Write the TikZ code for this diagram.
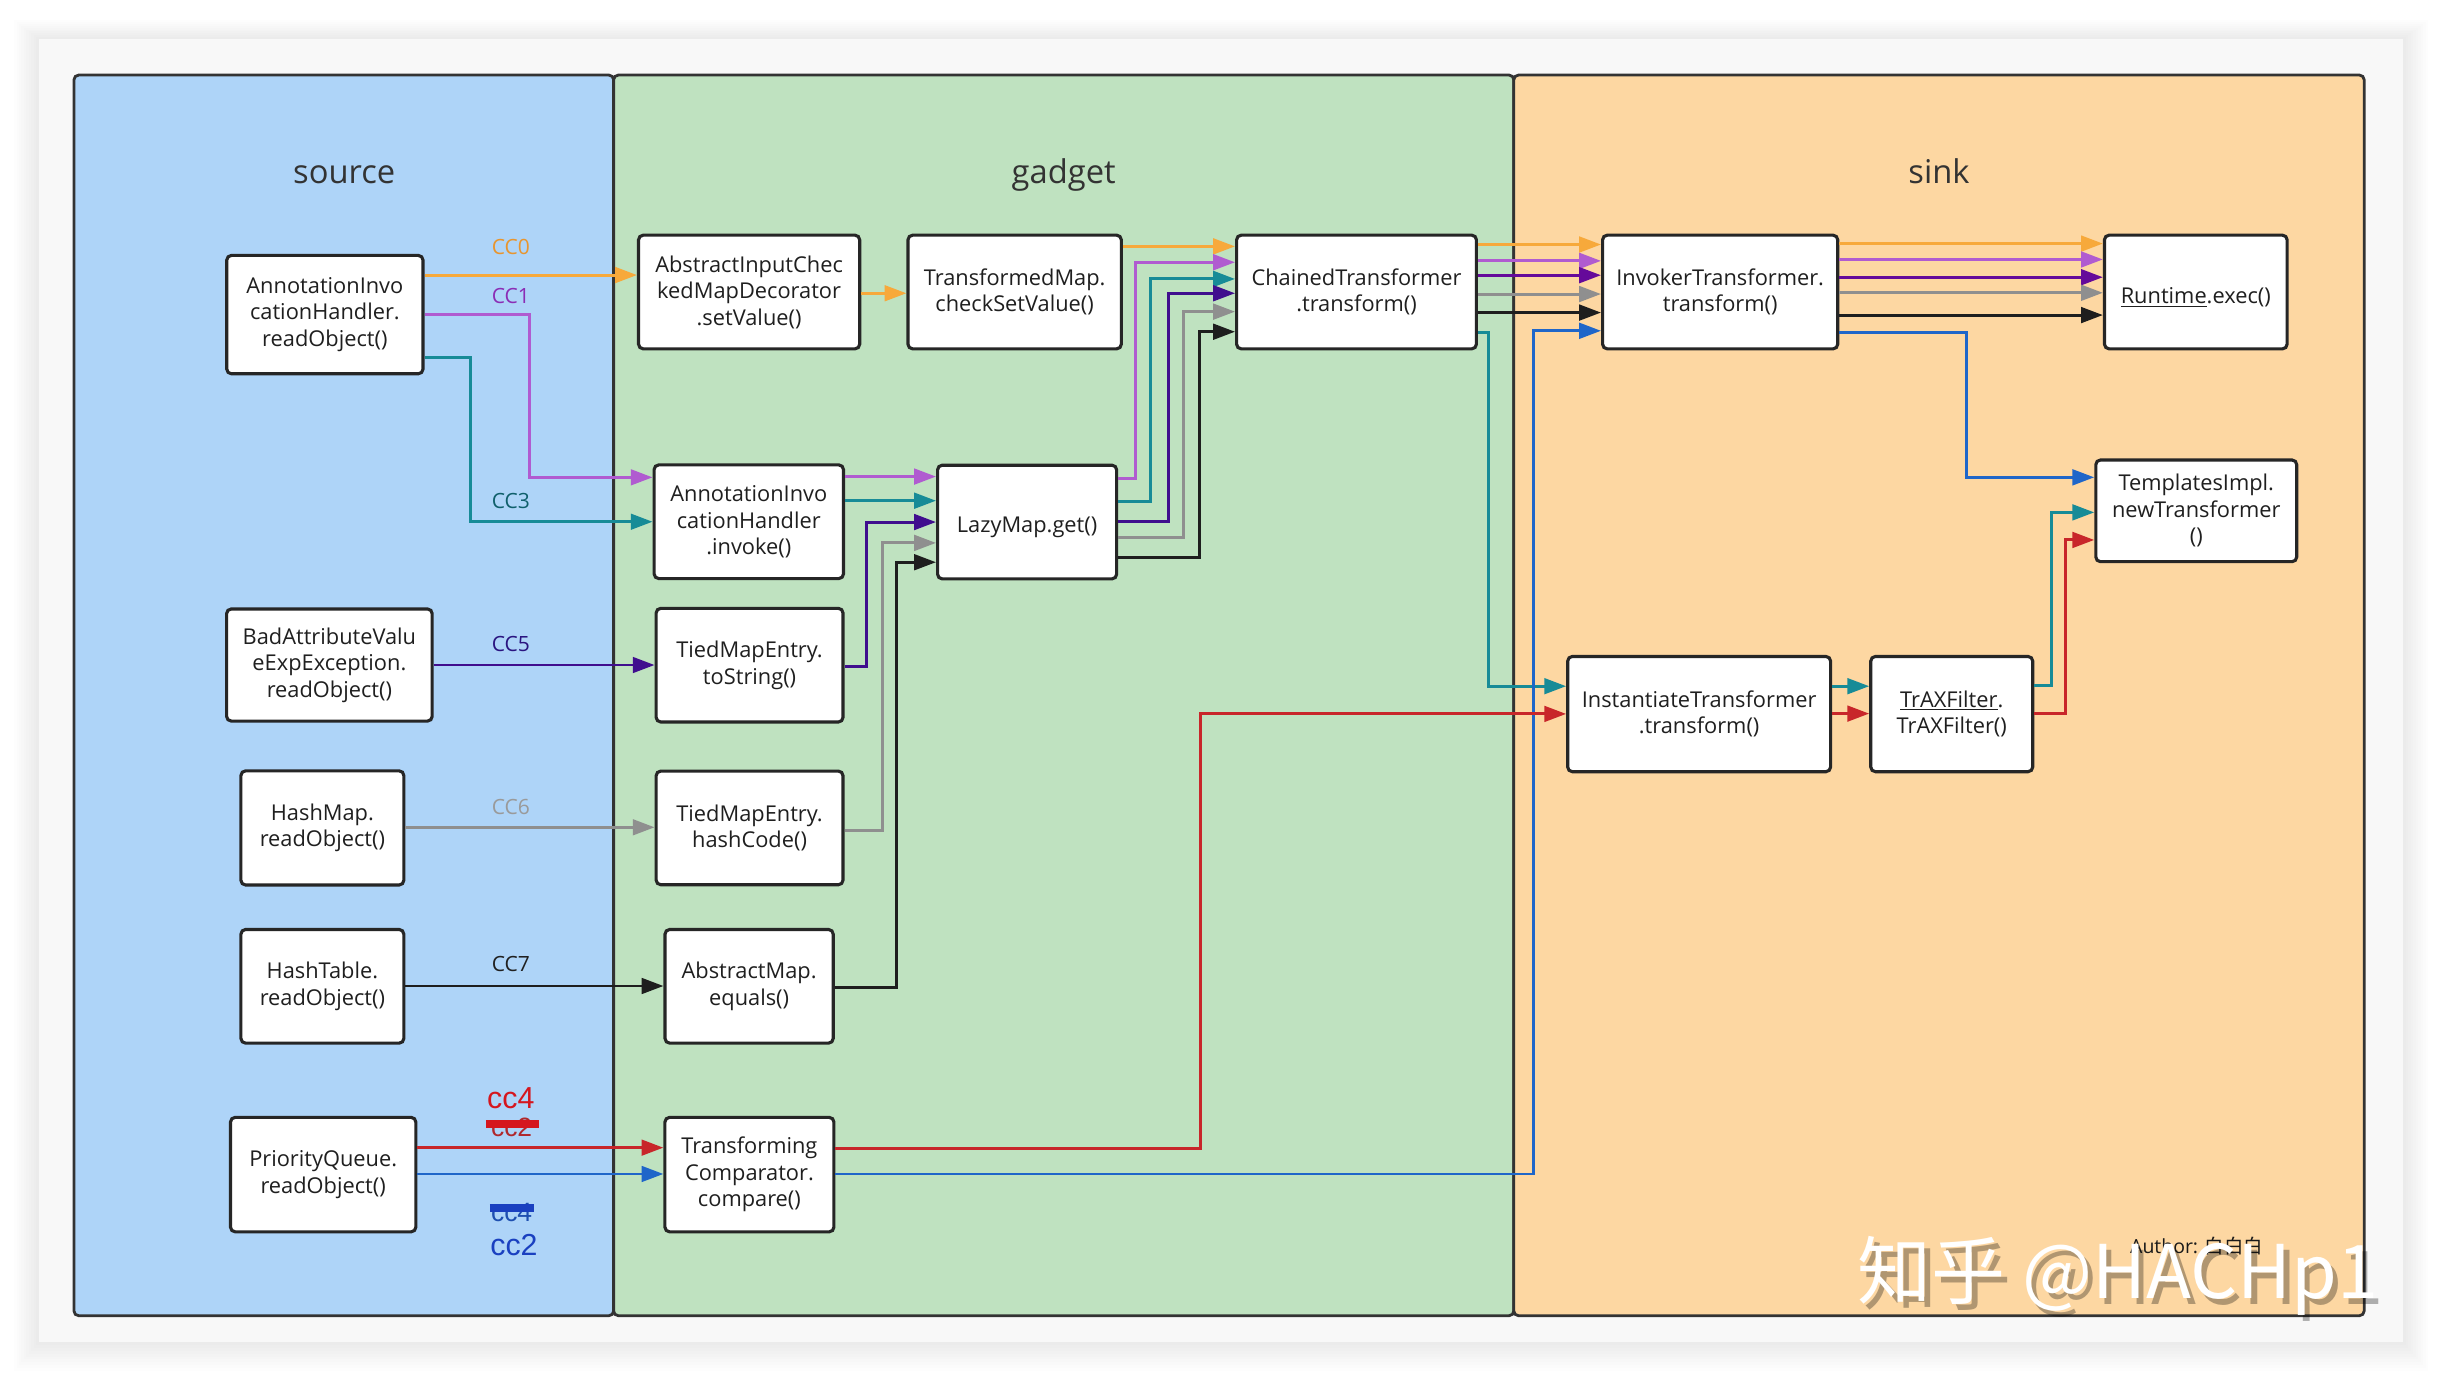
\documentclass[tikz,border=0pt]{standalone}
\usepackage{fontspec}
\setmainfont{Open Sans}
\newfontfamily\cjkfont{Noto Sans CJK SC}
\newfontfamily\arialfont{Liberation Sans}
\usetikzlibrary{arrows.meta}
\definecolor{cOr}{HTML}{F7A93B}
\definecolor{cPu}{HTML}{B05BD0}
\definecolor{cTe}{HTML}{178B97}
\definecolor{cIn}{HTML}{400E8E}
\definecolor{cVi}{HTML}{650A9A}
\definecolor{cGr}{HTML}{8F8F8F}
\definecolor{cBk}{HTML}{1E1E1E}
\definecolor{cBl}{HTML}{1F66C9}
\definecolor{cRd}{HTML}{C8262A}
\definecolor{srcBg}{HTML}{AED4F8}
\definecolor{gadBg}{HTML}{BFE2C0}
\definecolor{snkBg}{HTML}{FDD7A2}
\definecolor{cardBg}{HTML}{F8F8F8}
\definecolor{tOr}{HTML}{E8952E}
\definecolor{tPu}{HTML}{8B2DB5}
\definecolor{tTe}{HTML}{0F5F6B}
\definecolor{tIn}{HTML}{2A1480}
\definecolor{tGr}{HTML}{9A9A9A}
\definecolor{tBk}{HTML}{202020}
\definecolor{tRd}{HTML}{D5161E}
\definecolor{tRd2}{HTML}{B0282C}
\definecolor{tBl}{HTML}{1A40C0}
\definecolor{tBl2}{HTML}{1E4FB0}
\begin{document}
\begin{tikzpicture}[x=1pt,y=-1pt,
  box/.style={draw=black!85, line width=2pt, fill=white, rounded corners=3pt, align=center,
    font=\fontsize{14}{17}\selectfont, text=black!88, inner sep=0pt,
    execute at begin node={\rule{0pt}{17pt}}},
  panel/.style={draw=black!80, line width=1.8pt, rounded corners=3pt},
  ln/.style={line width=1.9pt, -{Triangle[length=14pt,width=10pt]}},
  lbl/.style={anchor=base, font=\fontsize{13.5}{14}\selectfont, inner sep=0pt},
  ttl/.style={anchor=base, font=\fontsize{21}{22}\selectfont, text=black!80, inner sep=0pt},
  big/.style={anchor=base, font=\arialfont\fontsize{19.5}{19.5}\selectfont, inner sep=0pt},
  small/.style={anchor=base, font=\arialfont\fontsize{17}{17}\selectfont, inner sep=0pt}
]
\useasboundingbox (0,0) rectangle (1568,888.6);
\fill[white] (0,0) rectangle (1568,888.6);
% card shadow
\foreach \i in {1,...,10} {
  \fill[black, opacity=0.008] (25-\i*1.6,25-\i*1.2) rectangle (1543+\i*1.6,862+\i*1.8);
}
\fill[cardBg] (25,25) rectangle (1543,862);
% panels
\filldraw[panel, fill=srcBg] (47.5,48.2) rectangle (394,844.8);
\filldraw[panel, fill=gadBg] (394,48.2) rectangle (972,844.8);
\filldraw[panel, fill=snkBg] (972,48.2) rectangle (1518,844.8);
\node[ttl] (tsrc) at (221,117.7) {source};
\node[ttl] (tgad) at (683,117.7) {gadget};
\node[ttl] (tsnk) at (1245,117.7) {sink};

% source nodes
\node[box, minimum width=126pt, minimum height=76pt] (aihro) at (208.6,202) {AnnotationInvo\\cationHandler.\\readObject()};
\node[box, minimum width=132pt, minimum height=72pt] (bav) at (211.5,427) {BadAttributeValu\\eExpException.\\readObject()};
\node[box, minimum width=104.6pt, minimum height=73.3pt] (hm) at (207,531.6) {HashMap.\\readObject()};
\node[box, minimum width=104.6pt, minimum height=73pt] (ht) at (207,633.3) {HashTable.\\readObject()};
\node[box, minimum width=119pt, minimum height=73.5pt] (pq) at (207.5,754.2) {PriorityQueue.\\readObject()};
% gadget nodes
\node[box, minimum width=142pt, minimum height=73pt] (aici) at (481,187.5) {AbstractInputChec\\kedMapDecorator\\.setValue()};
\node[box, minimum width=137pt, minimum height=73pt] (tm) at (651.5,187.5) {TransformedMap.\\checkSetValue()};
\node[box, minimum width=154pt, minimum height=73pt] (ct) at (871,187.5) {ChainedTransformer\\.transform()};
\node[box, minimum width=121.6pt, minimum height=73pt] (aihinv) at (480.8,335) {AnnotationInvo\\cationHandler\\.invoke()};
\node[box, minimum width=115pt, minimum height=73pt] (lm) at (659.5,335.2) {LazyMap.get()};
\node[box, minimum width=120pt, minimum height=73pt] (tmets) at (481.3,427.1) {TiedMapEntry.\\toString()};
\node[box, minimum width=120pt, minimum height=73pt] (tmehc) at (481.3,531.6) {TiedMapEntry.\\hashCode()};
\node[box, minimum width=108pt, minimum height=73pt] (ame) at (481,633.3) {AbstractMap.\\equals()};
\node[box, minimum width=108.5pt, minimum height=73.5pt] (tc) at (481.2,754.2) {Transforming\\Comparator.\\compare()};
% sink nodes
\node[box, minimum width=151pt, minimum height=73pt] (it) at (1104.5,187.5) {InvokerTransformer.\\transform()};
\node[box, minimum width=117.3pt, minimum height=73pt] (rt) at (1409.9,187.5) {\underline{Runtime}.exec()};
\node[box, minimum width=129pt, minimum height=65.3pt] (ti) at (1410.2,328) {TemplatesImpl.\\newTransformer\\()};
\node[box, minimum width=168.8pt, minimum height=74pt] (inst) at (1091,458.5) {InstantiateTransformer\\.transform()};
\node[box, minimum width=104pt, minimum height=74pt] (trax) at (1253.2,458.5) {\underline{TrAXFilter}.\\TrAXFilter()};

% CC0 orange
\draw[ln, cOr] (aihro.east |- 0,176.6) -- (aici.west |- 0,176.6);
\draw[ln, cOr] (aici.east |- 0,188.3) -- (tm.west |- 0,188.3);
\draw[ln, cOr] (tm.east |- 0,158.2) -- (ct.west |- 0,158.2);
\draw[ln, cOr] (ct.east |- 0,157) -- (it.west |- 0,157);
\draw[ln, cOr] (it.east |- 0,156.4) -- (rt.west |- 0,156.4);
% CC1 purple
\draw[ln, cPu] (aihro.east |- 0,201.8) -| (340,306.5) -- (aihinv.west |- 0,306.5);
\draw[ln, cPu] (aihinv.east |- 0,306) -- (lm.west |- 0,306);
\draw[ln, cPu] (lm.east |- 0,307.1) -| (729,168.4) -- (ct.west |- 0,168.4);
\draw[ln, cPu] (ct.east |- 0,167.5) -- (it.west |- 0,167.5);
\draw[ln, cPu] (it.east |- 0,166.6) -- (rt.west |- 0,166.6);
% CC3 teal
\draw[ln, cTe] (aihro.east |- 0,229.7) -| (302.4,335) -- (aihinv.west |- 0,335);
\draw[ln, cTe] (aihinv.east |- 0,321.5) -- (lm.west |- 0,321.5);
\draw[ln, cTe] (lm.east |- 0,322.1) -| (739,179.1) -- (ct.west |- 0,179.1);
\draw[ln, cTe] (ct.east |- 0,213.4) -| (955.8,440.6) -- (inst.west |- 0,440.6);
\draw[ln, cTe] (inst.east |- 0,440.6) -- (trax.west |- 0,440.6);
\draw[ln, cTe] (trax.east |- 0,440.2) -| (1317.3,329) -- (ti.west |- 0,329);
% CC5 indigo
\draw[ln, cIn] (bav.east |- 0,427) -- (tmets.west |- 0,427);
\draw[ln, cIn] (tmets.east |- 0,428.1) -| (556.3,335.2) -- (lm.west |- 0,335.2);
\draw[ln, cIn] (lm.east |- 0,335) -| (750,188.3) -- (ct.west |- 0,188.3);
\draw[ln, cVi] (ct.east |- 0,176.7) -- (it.west |- 0,176.7);
\draw[ln, cVi] (it.east |- 0,178) -- (rt.west |- 0,178);
% CC6 gray
\draw[ln, cGr] (hm.east |- 0,531.2) -- (tmehc.west |- 0,531.2);
\draw[ln, cGr] (tmehc.east |- 0,533.4) -| (566.4,348.6) -- (lm.west |- 0,348.6);
\draw[ln, cGr] (lm.east |- 0,345.2) -| (760,200.1) -- (ct.west |- 0,200.1);
\draw[ln, cGr] (ct.east |- 0,188.8) -- (it.west |- 0,188.8);
\draw[ln, cGr] (it.east |- 0,188) -- (rt.west |- 0,188);
% CC7 black
\draw[ln, cBk] (ht.east |- 0,633.1) -- (ame.west |- 0,633.1);
\draw[ln, cBk] (ame.east |- 0,634) -| (575.7,361) -- (lm.west |- 0,361);
\draw[ln, cBk] (lm.east |- 0,358.1) -| (770,213) -- (ct.west |- 0,213);
\draw[ln, cBk] (ct.east |- 0,200.7) -- (it.west |- 0,200.7);
\draw[ln, cBk] (it.east |- 0,202.3) -- (rt.west |- 0,202.3);
% CC2 blue
\draw[ln, cBl] (pq.east |- 0,753.8) -- (tc.west |- 0,753.8);
\draw[ln, cBl] (tc.east |- 0,753.8) -| (984.4,212.4) -- (it.west |- 0,212.4);
\draw[ln, cBl] (it.east |- 0,213.6) -| (1262.8,306.5) -- (ti.west |- 0,306.5);
% CC4 red
\draw[ln, cRd] (pq.east |- 0,736.9) -- (tc.west |- 0,736.9);
\draw[ln, cRd] (tc.east |- 0,737.6) -| (770.8,458.4) -- (inst.west |- 0,458.4);
\draw[ln, cRd] (inst.east |- 0,458.2) -- (trax.west |- 0,458.2);
\draw[ln, cRd] (trax.east |- 0,458) -| (1326.2,346.7) -- (ti.west |- 0,346.7);

% labels
\node[lbl, text=tOr] (lcc0) at (328,163.7) {CC0};
\node[lbl, text=tPu] (lcc1) at (328,194.8) {CC1};
\node[lbl, text=tTe] (lcc3) at (328,326.4) {CC3};
\node[lbl, text=tIn] (lcc5) at (328,418) {CC5};
\node[lbl, text=tGr] (lcc6) at (328,522.7) {CC6};
\node[lbl, text=tBk] (lcc7) at (328,624) {CC7};
\node[big, text=tRd] (lcc4r) at (328,711.5) {cc4};
\node[small, text=tRd2] (lcc2s) at (328.5,729.8) {cc2};
\draw[tRd, line width=5.5pt] (311.9,721.8) -- (346.3,721.8);
\node[small, text=tBl2] (lcc4s) at (328.5,784) {cc4};
\draw[tBl, line width=5pt] (314.6,775.5) -- (343,775.5);
\node[big, text=tBl] (lcc2b) at (330,806) {cc2};

% author + watermark
\node[anchor=base, font=\fontsize{12.5}{14}\selectfont, text=black!90, inner sep=0pt] (author) at (1410.5,804.7) {Author: {\cjkfont 白白白}};
\node[anchor=base, font=\cjkfont\fontsize{47.5}{47.5}\selectfont, text=black, text opacity=0.3, inner sep=0pt] (wms) at (1363.5,837.5) {知乎 @HACHp1};
\node[anchor=base, font=\cjkfont\fontsize{47.5}{47.5}\selectfont, text=white, inner sep=0pt] (wm) at (1360,834) {知乎 @HACHp1};
\end{tikzpicture}
\end{document}
